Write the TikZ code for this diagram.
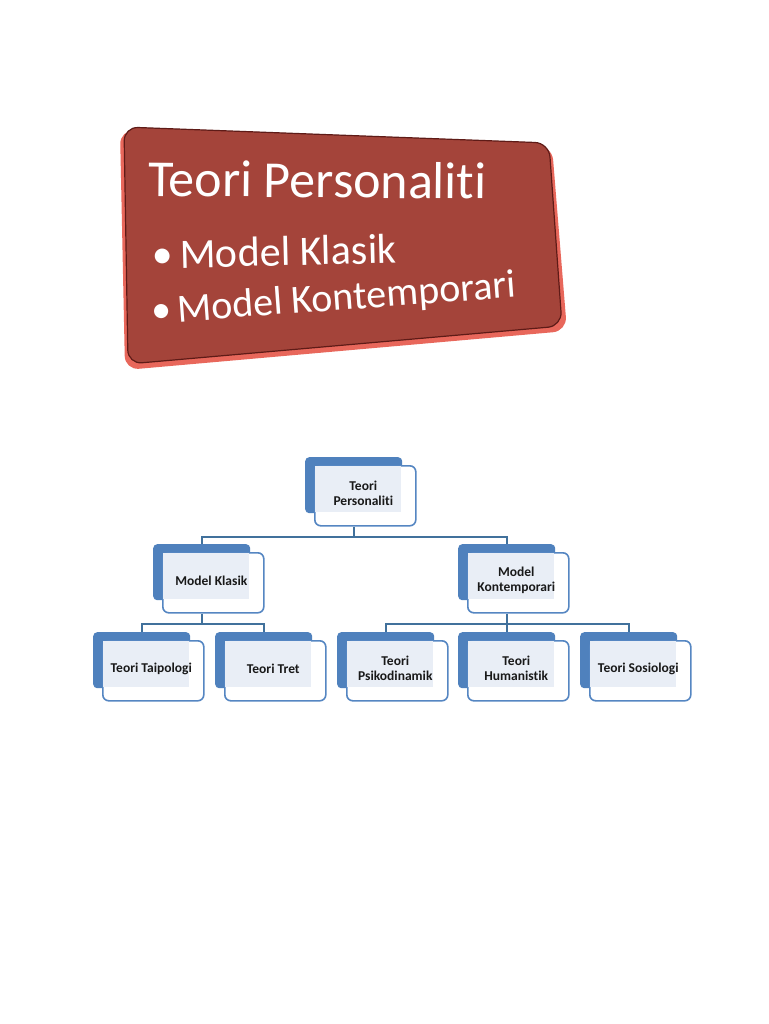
\documentclass[tikz,border=0pt]{standalone}
\usepackage{fontspec}
\setmainfont[Ligatures=NoCommon]{Carlito}
\usetikzlibrary{positioning}

\definecolor{cardred}{HTML}{A4443A}
\definecolor{cardedge}{HTML}{5E1B17}
\definecolor{cardglow}{HTML}{E8675B}
\definecolor{blueback}{HTML}{4F81BD}
\definecolor{blueline}{HTML}{5586C2}
\definecolor{innerblue}{HTML}{E9EEF6}
\definecolor{linkblue}{HTML}{41719C}

\tikzset{
  backbox/.style={fill=blueback, rounded corners=4pt, minimum width=97pt, minimum height=56pt, inner sep=0pt, anchor=north west},
  frontbox/.style={draw=blueline, line width=1.6pt, fill=white, rounded corners=6pt, minimum width=101pt, minimum height=60pt, inner sep=0pt, anchor=north west},
  boxtext/.style={font=\fontsize{13.5}{15}\selectfont\bfseries, align=center, text=black!90},
  cardtext/.style={text=white, anchor=base west, inner sep=0pt},
  link/.style={draw=linkblue, line width=2pt}
}

% one box of the chart: name, x, y (top left of the back plate), text
\newcommand{\orgbox}[4]{%
  \node[backbox] (#1-b) at (#2,#3) {};
  \node[frontbox] (#1) at ({#2+9},{#3+8}) {};
  \fill[innerblue] ([shift={(1,1)}]#1.north west) rectangle ([shift={(-1,-1)}]#1-b.south east);
  \node[boxtext] (#1-t) at ([shift={(-2,-2)}]#1.center) {#4};
}

\begin{document}
\begin{tikzpicture}[x=1pt,y=-1pt]
  \useasboundingbox[fill=white] (0,0) rectangle (768,1024);

  % red card
  \fill[cardglow, rounded corners=14pt] (120,130) -- (552,146) -- (567,331) -- (125,370) -- cycle;
  \draw[cardedge, fill=cardred, line width=1.2pt, rounded corners=14pt] (124,127) -- (549,143) -- (562,326) -- (128,364) -- cycle;
  \node[cardtext, font=\fontsize{52}{52}\selectfont, rotate=-0.5] (title) at (148,196) {Teori Personaliti};
  \node[cardtext, font=\fontsize{42}{42}\selectfont, rotate=1.4] (klasik-t) at (152,269) {\textbullet\,Model Klasik};
  \node[cardtext, font=\fontsize{40}{40}\selectfont, rotate=4.2] (kont-t) at (152,324) {\textbullet\,Model Kontemporari};

  % chart
  \orgbox{top}{305}{457}{Teori\\Personaliti}
  \orgbox{klasik}{153}{544}{Model Klasik}
  \orgbox{kont}{458}{544}{Model\\Kontemporari}
  \orgbox{taip}{93}{632}{Teori Taipologi}
  \orgbox{tret}{215}{632}{Teori Tret}
  \orgbox{psiko}{337}{632}{Teori\\Psikodinamik}
  \orgbox{human}{458}{632}{Teori\\Humanistik}
  \orgbox{sosio}{580}{632}{Teori Sosiologi}

  % connectors
  \draw[link] (top-b.south |- top.south) -- ++(0,10) coordinate (j1) -| (klasik-b.north);
  \draw[link] (j1) -| (kont-b.north);
  \draw[link] (klasik-b.south |- klasik.south) -- ++(0,10) coordinate (j2) -| (taip-b.north);
  \draw[link] (j2) -| (tret-b.north);
  \draw[link] (kont-b.south |- kont.south) -- ++(0,10) coordinate (j3) -| (psiko-b.north);
  \draw[link] (j3) -- (human-b.north);
  \draw[link] (j3) -| (sosio-b.north);
\end{tikzpicture}
\end{document}
